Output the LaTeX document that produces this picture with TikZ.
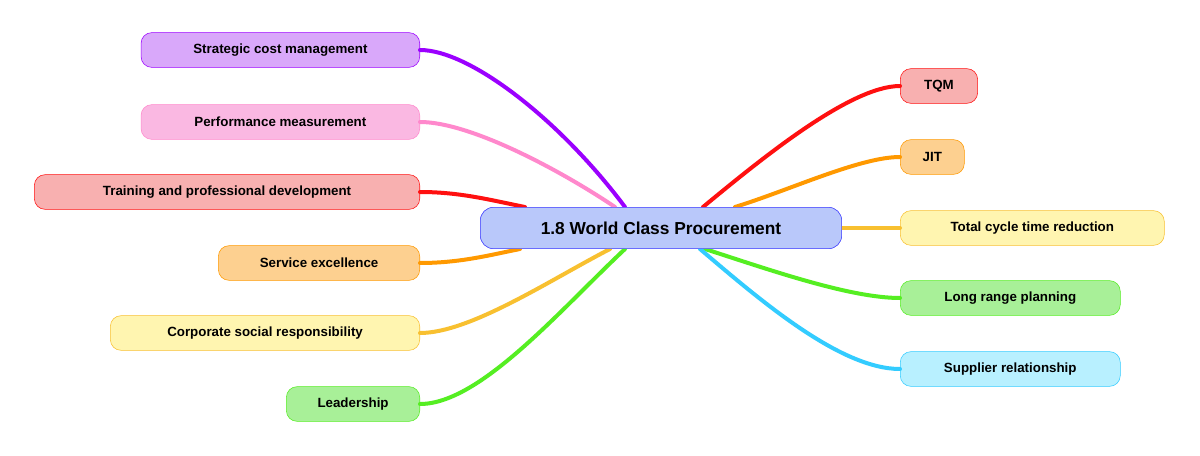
\documentclass[tikz,border=0pt]{standalone}
\usepackage{fontspec}
\setmainfont{Liberation Sans}
\begin{document}
\begin{tikzpicture}[x=0.75pt,y=-0.75pt,
 leaf/.style={draw,rounded corners=8pt,font=\bfseries\fontsize{10}{12}\selectfont,minimum height=26pt,inner xsep=4pt},
 br/.style={line width=3pt,line cap=round}]
\useasboundingbox[fill=white] (0,0) rectangle (1200,456);
\definecolor{cpur}{HTML}{9B00FF}\definecolor{fpur}{HTML}{D9A8FA}
\definecolor{cpin}{HTML}{FF88CC}\definecolor{fpin}{HTML}{FAB8E2}
\definecolor{cred}{HTML}{FF1010}\definecolor{fred}{HTML}{F8B0B0}
\definecolor{cora}{HTML}{FF9900}\definecolor{fora}{HTML}{FDD090}
\definecolor{cyel}{HTML}{F8C030}\definecolor{fyel}{HTML}{FFF5B0}
\definecolor{cgre}{HTML}{55EE22}\definecolor{fgre}{HTML}{A8F098}
\definecolor{ccya}{HTML}{33CCFF}\definecolor{fcya}{HTML}{B8F0FF}
\node[draw=blue!70,fill={rgb,255:red,185;green,200;blue,250},rounded corners=10pt,minimum width=271pt,minimum height=31pt,font=\bfseries\fontsize{13}{15}\selectfont] (c) at (661,228) {1.8 World Class Procurement};
\node[leaf,draw=cpur,fill=fpur,minimum width=209pt,anchor=east] (a1) at (420,50) {Strategic cost management};
\node[leaf,draw=cpin,fill=fpin,minimum width=209pt,anchor=east] (a2) at (420,122) {Performance measurement};
\node[leaf,draw=cred,fill=fred,minimum width=289pt,anchor=east] (a3) at (420,192) {Training and professional development};
\node[leaf,draw=cora,fill=fora,minimum width=151pt,anchor=east] (a4) at (420,263) {Service excellence};
\node[leaf,draw=cyel,fill=fyel,minimum width=232pt,anchor=east] (a5) at (420,333) {Corporate social responsibility};
\node[leaf,draw=cgre,fill=fgre,minimum width=100pt,anchor=east] (a6) at (420,404) {Leadership};
\node[leaf,draw=cred,fill=fred,minimum width=58pt,anchor=west] (b1) at (900,86) {TQM};
\node[leaf,draw=cora,fill=fora,minimum width=48pt,anchor=west] (b2) at (900,157) {JIT};
\node[leaf,draw=cyel,fill=fyel,minimum width=198pt,anchor=west] (b3) at (900,228) {Total cycle time reduction};
\node[leaf,draw=cgre,fill=fgre,minimum width=165pt,anchor=west] (b4) at (900,298) {Long range planning};
\node[leaf,draw=ccya,fill=fcya,minimum width=165pt,anchor=west] (b5) at (900,369) {Supplier relationship};
\begin{scope}[on background layer/.style={}]
\coordinate (p1) at (625,207);\coordinate (p2) at (615,207);\coordinate (p3) at (525,207);
\coordinate (p4) at (520,249);\coordinate (p5) at (610,249);\coordinate (p6) at (625,249);
\coordinate (q1) at (703,207);\coordinate (q2) at (735,207);\coordinate (q4) at (705,249);\coordinate (q5) at (700,249);
\end{scope}
\begin{pgfonlayer}{main}\end{pgfonlayer}
\draw[br,cpur] (a1.east) .. controls (470,50) and (560,120) .. (p1);
\draw[br,cpin] (a2.east) .. controls (470,122) and (560,170) .. (p2);
\draw[br,cred] (a3.east) .. controls (460,192) and (490,200) .. (p3);
\draw[br,cora] (a4.east) .. controls (460,263) and (490,255) .. (p4);
\draw[br,cyel] (a5.east) .. controls (470,333) and (550,280) .. (p5);
\draw[br,cgre] (a6.east) .. controls (480,404) and (560,310) .. (p6);
\draw[br,cred] (b1.west) .. controls (850,86) and (760,160) .. (q1);
\draw[br,cora] (b2.west) .. controls (860,157) and (790,190) .. (q2);
\draw[br,cyel] (c.east) -- (b3.west);
\draw[br,cgre] (b4.west) .. controls (850,298) and (770,270) .. (q4);
\draw[br,ccya] (b5.west) .. controls (840,369) and (760,300) .. (q5);
\node[draw=blue!70,fill={rgb,255:red,185;green,200;blue,250},rounded corners=10pt,minimum width=271pt,minimum height=31pt,font=\bfseries\fontsize{13}{15}\selectfont] at (661,228) {1.8 World Class Procurement};
\end{tikzpicture}
\end{document}
